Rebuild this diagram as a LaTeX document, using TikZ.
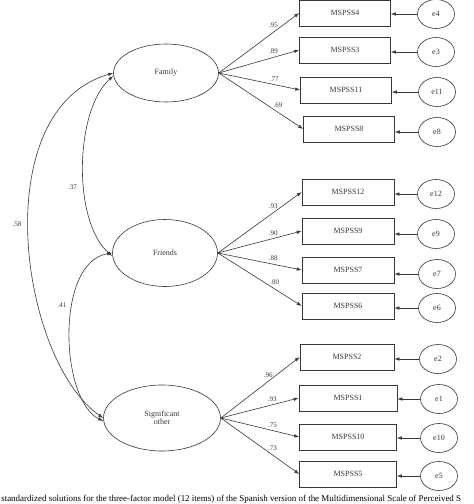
\documentclass[tikz,border=0pt]{standalone}
\usepackage{fontspec}
\setmainfont{Liberation Serif}
\usetikzlibrary{arrows.meta,shapes.geometric}

\definecolor{ink}{gray}{0.22}

\tikzset{
    factor/.style={draw=ink, ellipse, inner sep=0pt, font=\fontsize{8}{9}\selectfont, align=center},
    itembox/.style={draw=ink, rectangle, minimum height=26pt, inner sep=0pt, font=\fontsize{8}{9}\selectfont},
    errnode/.style={draw=ink, ellipse, minimum width=37pt, minimum height=29pt, inner sep=0pt, font=\fontsize{8}{9}\selectfont},
    load/.style={-{Latex[length=5pt,width=3.5pt]}},
    covar/.style={{Latex[length=5pt,width=3.5pt]}-{Latex[length=5pt,width=3.5pt]}},
    coef/.style={font=\fontsize{7}{8}\selectfont, text=ink, inner sep=1pt}
}

\begin{document}
\begin{tikzpicture}[x=1pt, y=-1pt, line width=0.6pt, draw=ink, text=ink]
    \useasboundingbox (0,0) rectangle (474,504);

    % -- Fattori latenti --
    \node[factor, minimum width=105pt, minimum height=58pt] (fam) at (166,73) {Family};
    \node[factor, minimum width=105pt, minimum height=67pt] (fri) at (165,253) {Friends};
    \node[factor, minimum width=117pt, minimum height=66pt] (sig) at (162,418) {Significant\\[-1pt]other};

    % -- Indicatori: Family --
    \node[itembox, minimum width=91pt] (m4)  at (345,13)  {MSPSS4};
    \node[itembox, minimum width=91pt] (m3)  at (345,50)  {MSPSS3};
    \node[itembox, minimum width=91pt] (m11) at (346,90)  {MSPSS11};
    \node[itembox, minimum width=91pt] (m8)  at (349,129) {MSPSS8};

    % -- Indicatori: Friends --
    \node[itembox, minimum width=92pt] (m12) at (348,192) {MSPSS12};
    \node[itembox, minimum width=92pt] (m9)  at (348,231) {MSPSS9};
    \node[itembox, minimum width=92pt] (m7)  at (348,270) {MSPSS7};
    \node[itembox, minimum width=92pt] (m6)  at (348,306) {MSPSS6};

    % -- Indicatori: Significant other --
    \node[itembox, minimum width=94pt] (m2)  at (347,357) {MSPSS2};
    \node[itembox, minimum width=98pt] (m1)  at (348,398) {MSPSS1};
    \node[itembox, minimum width=97pt] (m10) at (348,437) {MSPSS10};
    \node[itembox, minimum width=97pt] (m5)  at (348,474) {MSPSS5};

    % -- Errori --
    \node[errnode] (e4)  at (436,14)  {e4};
    \node[errnode] (e3)  at (436,52)  {e3};
    \node[errnode] (e11) at (437,92)  {e11};
    \node[errnode] (e8)  at (437,132) {e8};
    \node[errnode] (e12) at (436,194) {e12};
    \node[errnode] (e9)  at (436,234) {e9};
    \node[errnode] (e7)  at (437,274) {e7};
    \node[errnode] (e6)  at (437,308) {e6};
    \node[errnode] (e2)  at (438,359) {e2};
    \node[errnode] (e1)  at (439,399) {e1};
    \node[errnode] (e10) at (439,438) {e10};
    \node[errnode] (e5)  at (439,476) {e5};

    \foreach \e/\m in {e4/m4, e3/m3, e11/m11, e8/m8, e12/m12, e9/m9,
                       e7/m7, e6/m6, e2/m2, e1/m1, e10/m10, e5/m5}
        \draw[load] (\e.west) -- (\m.east |- \e.west);

    % -- Saturazioni --
    \draw[load] (fam.east) -- node[coef, pos=0.68, above=3pt] (l4) {.95} (m4.west);
    \draw[load] (fam.east) -- node[coef, pos=0.68, above=2pt] (l3) {.89} (m3.west);
    \draw[load] (fam.east) -- node[coef, pos=0.68, above=2pt] (l11) {.77} (m11.west);
    \draw[load] (fam.east) -- node[coef, pos=0.70, above=3pt] (l8) {.69} (m8.west);

    \draw[load] (fri.east) -- node[coef, pos=0.66, above=3pt] (l12) {.93} (m12.west);
    \draw[load] (fri.east) -- node[coef, pos=0.66, above=2pt] (l9) {.90} (m9.west);
    \draw[load] (fri.east) -- node[coef, pos=0.66, above=2pt] (l7) {.88} (m7.west);
    \draw[load] (fri.east) -- node[coef, pos=0.68, above=3pt] (l6) {.80} (m6.west);

    \draw[load] (sig.east) -- node[coef, pos=0.60, above=3pt] (l2) {.96} (m2.west);
    \draw[load] (sig.east) -- node[coef, pos=0.66, above=2pt] (l1) {.93} (m1.west);
    \draw[load] (sig.east) -- node[coef, pos=0.66, above=2pt] (l10) {.75} (m10.west);
    \draw[load] (sig.east) -- node[coef, pos=0.66, above=3pt] (l5) {.73} (m5.west);

    % -- Covarianze --
    \draw[covar] (fam.west) .. controls (-15,110) and (20,360) .. node[coef, pos=0.47, left=6pt] (c58) {.58} (sig.west);
    \draw[covar] ([yshift=-3pt]fam.west) .. controls (75,110) and (72,221) .. node[coef, pos=0.6, left=6pt] (c37) {.37} ([yshift=-3pt]fri.west);
    \draw[covar] (fri.west) .. controls (55,262) and (60,400) .. node[coef, pos=0.38, left=5pt] (c41) {.41} ([yshift=-3pt]sig.west);

    % -- Didascalia --
    \node[anchor=base west, inner sep=0pt, font=\fontsize{8.95}{10}\selectfont, text=black] (cap) at (1,501)
        {standardized solutions for the three-factor model (12 items) of the Spanish version of the Multidimensional Scale of Perceived S};
\end{tikzpicture}
\end{document}
